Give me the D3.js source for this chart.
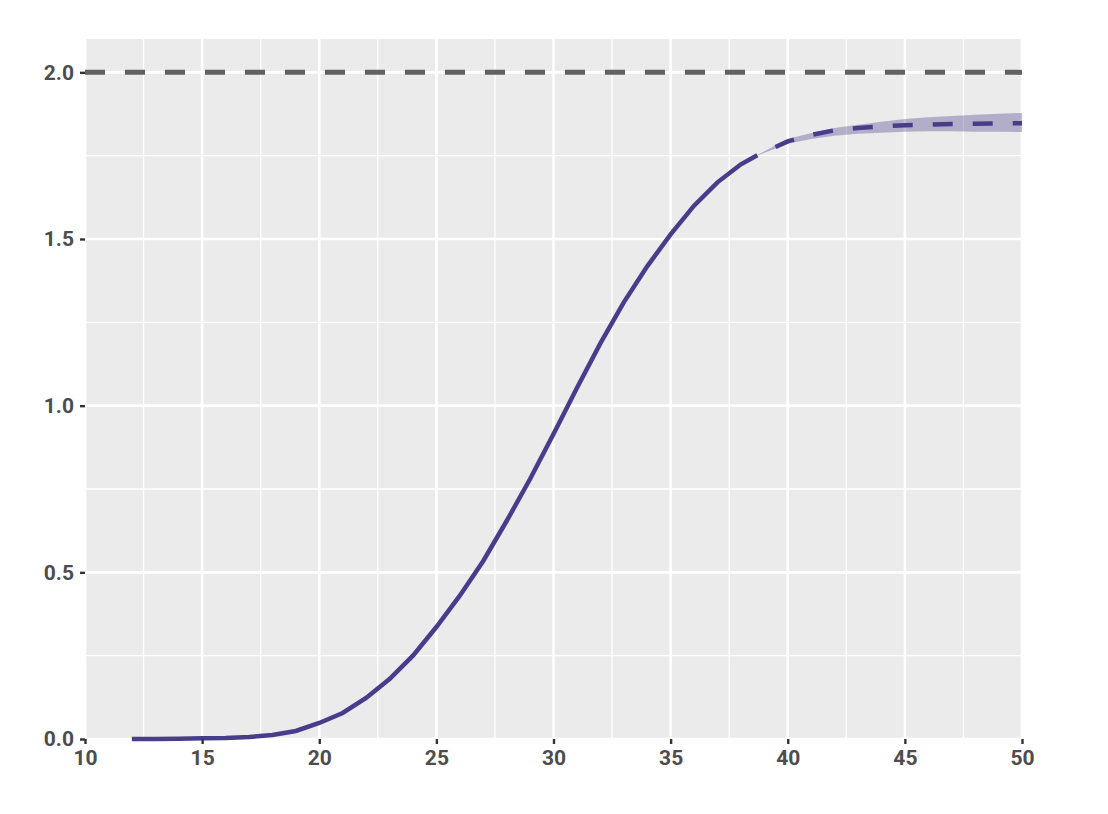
<!DOCTYPE html>
<html>
<head>
<meta charset="utf-8">
<script src="https://cdn.jsdelivr.net/npm/d3@7"></script>
<style>
  body { margin: 0; background: #fff; }
  svg { display: block; font-family: Roboto, "Noto Sans", sans-serif; }
</style>
</head>
<body>
<svg width="1108" height="814"></svg>
<script>
// observed curve (solid)
const obsX = [12, 13, 14, 15, 16, 17, 18, 19, 20, 21, 22, 23, 24, 25, 26, 27, 28, 29, 30,
              31, 32, 33, 34, 35, 36, 37, 38, 38.7];
const obsY = [0, 0, 0.001, 0.002, 0.003, 0.006, 0.012, 0.024, 0.048, 0.078, 0.123, 0.18, 0.25,
              0.336, 0.43, 0.534, 0.654, 0.78, 0.915, 1.053, 1.187, 1.31, 1.418, 1.514, 1.60,
              1.67, 1.724, 1.751];

// forecast (dashed) with band
const fcX = [38.7, 40, 41, 42, 43, 44, 45, 46, 47, 48, 49, 50];
const fcY = [1.751, 1.793, 1.812, 1.826, 1.833, 1.838, 1.841, 1.843, 1.845, 1.846, 1.847, 1.847];
const fcLo = [1.750, 1.786, 1.800, 1.810, 1.816, 1.819, 1.822, 1.823, 1.823, 1.822, 1.822, 1.821];
const fcHi = [1.752, 1.800, 1.818, 1.833, 1.843, 1.852, 1.860, 1.865, 1.869, 1.873, 1.876, 1.878];

const refLine = 2.0;
const xTicks = [10, 15, 20, 25, 30, 35, 40, 45, 50];
const yTicks = [0, 0.5, 1.0, 1.5, 2.0];

const svg = d3.select('svg');
const pLeft = 85, pRight = 1022, pTop = 39, pBottom = 739;

const x = d3.scaleLinear().domain([10, 50]).range([pLeft, pRight]);
const y = d3.scaleLinear().domain([0, 2.1]).range([pBottom, pTop]);

svg.append('rect')
  .attr('x', pLeft).attr('y', pTop)
  .attr('width', pRight - pLeft).attr('height', pBottom - pTop)
  .attr('fill', '#ebebeb');

const grid = svg.append('g');
const xMinor = d3.range(12.5, 50, 5);
const yMinor = d3.range(0.25, 2.1, 0.5);
grid.selectAll('.vmin').data(xMinor).enter().append('line')
  .attr('x1', d => x(d)).attr('x2', d => x(d))
  .attr('y1', pTop).attr('y2', pBottom)
  .attr('stroke', '#fff').attr('stroke-width', 1.3);
grid.selectAll('.hmin').data(yMinor).enter().append('line')
  .attr('x1', pLeft).attr('x2', pRight)
  .attr('y1', d => y(d)).attr('y2', d => y(d))
  .attr('stroke', '#fff').attr('stroke-width', 1.3);
grid.selectAll('.vmaj').data(xTicks).enter().append('line')
  .attr('x1', d => x(d)).attr('x2', d => x(d))
  .attr('y1', pTop).attr('y2', pBottom)
  .attr('stroke', '#fff').attr('stroke-width', 2.6);
grid.selectAll('.hmaj').data(yTicks).enter().append('line')
  .attr('x1', pLeft).attr('x2', pRight)
  .attr('y1', d => y(d)).attr('y2', d => y(d))
  .attr('stroke', '#fff').attr('stroke-width', 2.6);

// reference line
svg.append('line')
  .attr('x1', pLeft).attr('x2', pRight)
  .attr('y1', y(refLine)).attr('y2', y(refLine))
  .attr('stroke', '#616161').attr('stroke-width', 5)
  .attr('stroke-dasharray', '20,20');

const fc = fcX.map((d, i) => ({ x: d, y: fcY[i], lo: fcLo[i], hi: fcHi[i] }));

svg.append('path')
  .datum(fc)
  .attr('fill', '#483d8b').attr('fill-opacity', 0.35)
  .attr('d', d3.area().x(d => x(d.x)).y0(d => y(d.lo)).y1(d => y(d.hi)));

svg.append('path')
  .datum(obsX.map((d, i) => [d, obsY[i]]))
  .attr('fill', 'none').attr('stroke', '#483d8b').attr('stroke-width', 4.5)
  .attr('d', d3.line().x(d => x(d[0])).y(d => y(d[1])));

svg.append('path')
  .datum(fc)
  .attr('fill', 'none').attr('stroke', '#483d8b').attr('stroke-width', 4.5)
  .attr('stroke-dasharray', '20,20').attr('stroke-dashoffset', 20)
  .attr('d', d3.line().x(d => x(d.x)).y(d => y(d.y)));

// axes
const xAxis = svg.append('g')
  .attr('transform', `translate(0,${pBottom})`)
  .call(d3.axisBottom(x).tickValues(xTicks).tickSize(5).tickPadding(6).tickFormat(d3.format('d')));
const yAxis = svg.append('g')
  .attr('transform', `translate(${pLeft},0)`)
  .call(d3.axisLeft(y).tickValues(yTicks).tickSize(5).tickPadding(6).tickFormat(d3.format('.1f')));

[xAxis, yAxis].forEach(a => {
  a.select('.domain').remove();
  a.selectAll('.tick line').attr('stroke', '#333').attr('stroke-width', 2.4);
  a.selectAll('.tick text')
    .attr('fill', '#4d4d4d')
    .style('font-size', '21px')
    .style('font-weight', 'bold')
    .style('font-family', 'Roboto, "Noto Sans", sans-serif');
});
</script>
</body>
</html>
